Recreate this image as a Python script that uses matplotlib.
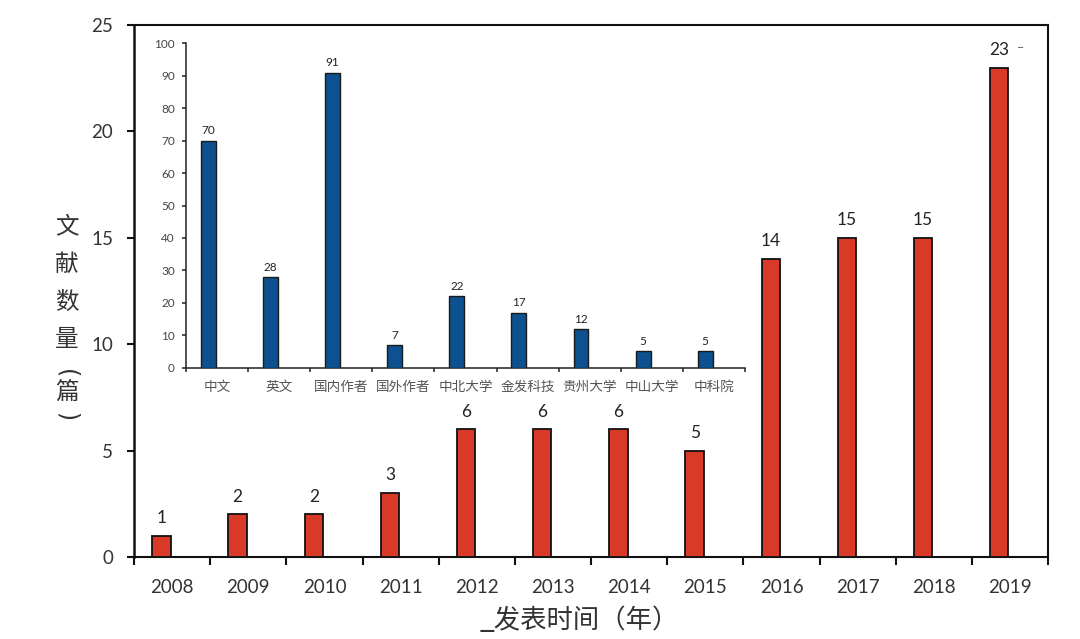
import numpy as np
import matplotlib
matplotlib.use('Agg')
from matplotlib import pyplot as plt

plt.rcParams['font.family'] = ['Lato', 'Noto Sans CJK SC', 'DejaVu Sans']

# main chart: papers per year
years = ['2008', '2009', '2010', '2011', '2012', '2013', '2014', '2015',
         '2016', '2017', '2018', '2019']
counts = [1, 2, 2, 3, 6, 6, 6, 5, 14, 15, 15, 23]

# inset: papers by category / institution
groups = ['中文', '英文', '国内作者', '国外作者', '中北大学', '金发科技',
          '贵州大学', '中山大学', '中科院']
group_counts = [70, 28, 91, 7, 22, 17, 12, 5, 5]

RED = '#d83a27'
BLUE = '#0d5190'
TXT = '#333333'
CJK = ['Noto Sans CJK SC', 'DejaVu Sans']


def main():
    fig = plt.figure(figsize=(10.8, 6.39), dpi=100)

    # ---- main axes
    ax = fig.add_axes([0.1241, 0.1283, 0.8463, 0.8326])
    x = np.arange(len(years))
    bars = ax.bar(x - 0.14, counts, width=0.24, color=RED,
                  edgecolor='#111111', linewidth=1.3, zorder=3)
    for b, v in zip(bars, counts):
        ax.annotate(str(v), (b.get_x() + b.get_width() / 2, b.get_height()),
                    xytext=(0, 7), textcoords='offset points',
                    ha='center', va='bottom', fontsize=12.5, color='#222222')
    # stray dash next to the last label
    ax.annotate('–', (bars[-1].get_x() + bars[-1].get_width() / 2, counts[-1]),
                xytext=(15, 14), textcoords='offset points',
                ha='center', va='center', fontsize=9, color='#666666')

    ax.set_xlim(-0.5, len(years) - 0.5)
    ax.set_ylim(0, 25)
    ax.set_yticks(np.arange(0, 26, 5))
    ax.set_xticks(x)
    ax.set_xticklabels(years)
    ax.set_xticks(np.arange(-0.5, len(years), 1), minor=True)
    ax.tick_params(axis='x', which='major', length=0, pad=16,
                   labelsize=13.5, labelcolor=TXT)
    ax.tick_params(axis='x', which='minor', length=5.5, width=1.5,
                   direction='out', color='#111111')
    ax.tick_params(axis='y', length=5, width=1.5, pad=10, labelsize=13.5,
                   labelcolor=TXT, color='#111111')
    for s in ax.spines.values():
        s.set_linewidth(1.5)
        s.set_color('#111111')
    ax.spines['left'].set_linewidth(1.8)

    # y label, stacked vertically; brackets turned sideways
    ylab = ['文', '献', '数', '量', '(', '篇', ')']
    ystep = [0, 1, 1, 1, 0.9, 0.55, 0.6]
    rot = [0, 0, 0, 0, -90, 0, -90]
    yy = 1 - 227 / 639
    for ch, st, r in zip(ylab, ystep, rot):
        yy -= st * 37.5 / 639
        fam = CJK if r == 0 else ['DejaVu Sans']
        fig.text(67 / 1080, yy, ch, ha='center', va='center', fontsize=17,
                 color=TXT, family=fam, rotation=r)

    fig.text(579 / 1080, 1 - 621 / 639, '_发表时间（年）', ha='center',
             va='center', fontsize=19, color=TXT, family=CJK)

    # ---- inset axes
    ins = fig.add_axes([0.1722, 0.4246, 0.5176, 0.5076])
    gx = np.arange(len(groups))
    gbars = ins.bar(gx - 0.14, group_counts, width=0.24, color=BLUE,
                    edgecolor='#1a1a1a', linewidth=1.0, zorder=3)
    for b, v in zip(gbars, group_counts):
        ins.annotate(str(v), (b.get_x() + b.get_width() / 2, b.get_height()),
                     xytext=(0, 3), textcoords='offset points',
                     ha='center', va='bottom', fontsize=8.5, color='#222222')
    ins.set_xlim(-0.5, len(groups) - 0.5)
    ins.set_ylim(0, 100)
    ins.set_yticks(np.arange(0, 101, 10))
    ins.set_xticks(gx)
    ins.set_xticklabels(groups, family=CJK)
    ins.set_xticks(np.arange(-0.5, len(groups), 1), minor=True)
    ins.tick_params(axis='x', which='major', length=0, pad=9,
                    labelsize=9.8, labelcolor='#555555')
    ins.tick_params(axis='x', which='minor', length=3, width=1.1,
                    color='#222222')
    ins.tick_params(axis='y', length=3, width=1.1, pad=5, labelsize=8.5,
                    labelcolor='#444444', color='#222222')
    ins.spines['top'].set_visible(False)
    ins.spines['right'].set_visible(False)
    for k in ('left', 'bottom'):
        ins.spines[k].set_linewidth(1.1)
        ins.spines[k].set_color('#222222')
    ins.patch.set_alpha(0)

    fig.savefig('out.png', dpi=100)


if __name__ == '__main__':
    main()
